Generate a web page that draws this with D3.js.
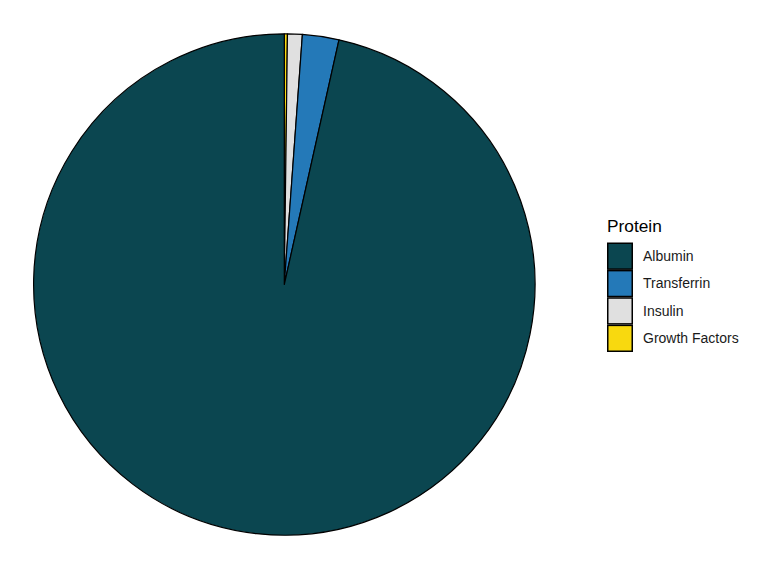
<!DOCTYPE html>
<html>
<head>
<meta charset="utf-8">
<script src="https://cdn.jsdelivr.net/npm/d3@7"></script>
<style>
  body { margin: 0; background: #fff; }
  svg { display: block; font-family: "Liberation Sans", Arial, sans-serif; }
</style>
</head>
<body>
<div id="chart"></div>
<script>
// Données (part en %)
const proteins = ["Albumin", "Transferrin", "Insulin", "Growth Factors"];
const shares = [96.5, 2.35, 0.95, 0.2];
const colors = ["#0b4650", "#2479b8", "#e0e0e0", "#f8d90f"];
const legendTitle = "Protein";

const width = 768, height = 571;
const cx = 284.3, cy = 284.5, r = 250.7;

const svg = d3.select("#chart").append("svg")
    .attr("width", width)
    .attr("height", height);

const data = proteins.map((p, i) => ({ name: p, value: shares[i], color: colors[i] }));

// ggplot empile dans l'ordre inverse : le dernier niveau part de midi
const pie = d3.pie()
    .sort(null)
    .value(d => d.value);

const arcs = pie(data.slice().reverse());
const arc = d3.arc().innerRadius(0).outerRadius(r);

const g = svg.append("g").attr("transform", `translate(${cx},${cy})`);

g.selectAll("path")
    .data(arcs)
    .enter()
    .append("path")
    .attr("d", arc)
    .attr("fill", d => d.data.color)
    .attr("stroke", "#000")
    .attr("stroke-width", 1.2)
    .attr("stroke-linejoin", "round");

// Légende
const legend = svg.append("g").attr("transform", "translate(607,0)");

legend.append("text")
    .attr("x", 0)
    .attr("y", 232)
    .text(legendTitle)
    .style("font-size", "17.3px")
    .attr("fill", "#000");

const keyY = d3.scaleBand()
    .domain(proteins)
    .range([242.5, 352])
    .padding(0);

const items = legend.selectAll(".item")
    .data(data)
    .enter()
    .append("g")
    .attr("class", "item")
    .attr("transform", d => `translate(0,${keyY(d.name)})`);

items.append("rect")
    .attr("x", 0.75)
    .attr("y", 0.75)
    .attr("width", 24.5)
    .attr("height", keyY.bandwidth() - 1.5)
    .attr("fill", d => d.color)
    .attr("stroke", "#000")
    .attr("stroke-width", 1.5);

items.append("text")
    .attr("x", 36)
    .attr("y", keyY.bandwidth() / 2)
    .attr("dy", "0.35em")
    .text(d => d.name)
    .style("font-size", "14px")
    .attr("fill", "#1a1a1a");
</script>
</body>
</html>
